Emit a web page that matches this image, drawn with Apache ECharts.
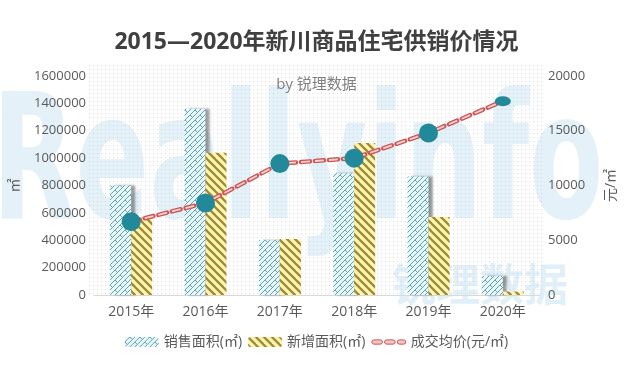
<!DOCTYPE html>
<html><head><meta charset="utf-8">
<script src="https://cdn.jsdelivr.net/npm/echarts@6/dist/echarts.min.js"></script>
<style>html,body{margin:0;padding:0;background:#fff}#c{width:633px;height:390px}</style>
</head><body><div id="c"></div>
<script>
const categories = ['2015年','2016年','2017年','2018年','2019年','2020年'];
const salesArea = [800000, 1360000, 400000, 890000, 865000, 140000];
const newArea = [570000, 1040000, 410000, 1110000, 570000, 25000];
const avgPrice = [6700, 8400, 12000, 12500, 14800, 17700];

function mk(w,h,draw){const c=document.createElement('canvas');c.width=w;c.height=h;draw(c.getContext('2d'));return c;}
const salesPat = mk(10,10,ctx=>{
  ctx.fillStyle='#e8f7fa';ctx.fillRect(0,0,10,10);
  ctx.strokeStyle='#4f9aa6';ctx.lineWidth=0.9;
  ctx.beginPath();ctx.moveTo(0,10);ctx.lineTo(10,0);ctx.stroke();
  ctx.beginPath();ctx.moveTo(0,5);ctx.lineTo(5,0);ctx.stroke();
  ctx.beginPath();ctx.moveTo(5,10);ctx.lineTo(10,5);ctx.stroke();
  ctx.beginPath();ctx.moveTo(5,0);ctx.lineTo(7.5,2.5);ctx.stroke();
  ctx.beginPath();ctx.moveTo(0,5);ctx.lineTo(2.5,7.5);ctx.stroke();
});
const newPat = mk(8,8,ctx=>{
  ctx.fillStyle='#fff6b4';ctx.fillRect(0,0,8,8);
  ctx.strokeStyle='#a08b34';ctx.lineWidth=2.3;
  [[0,0,8,8],[-4,4,4,12],[4,-4,12,4]].forEach(s=>{ctx.beginPath();ctx.moveTo(s[0],s[1]);ctx.lineTo(s[2],s[3]);ctx.stroke();});
});
const dotPat = mk(4,4,ctx=>{ctx.fillStyle='#fff';ctx.fillRect(0,0,4,4);ctx.fillStyle='#dedede';ctx.fillRect(1,1,1,1);});

const chart = echarts.init(document.getElementById('c'), null, {renderer:'canvas'});
const font = '"Open Sans","Noto Sans CJK SC",sans-serif';
const dotSizes = avgPrice.map((v,i)=> i===avgPrice.length-1 ? [16,10] : 19);
chart.setOption({
  animation:false,
  backgroundColor:'#fff',
  textStyle:{fontFamily:font},
  title:[
    {text:'2015—2020年新川商品住宅供销价情况',left:'center',top:26,textStyle:{fontSize:23,fontWeight:'bold',color:'#404040',fontFamily:font}},
    {text:'by 锐理数据',left:'center',top:72,textStyle:{fontSize:15,fontWeight:'normal',color:'#808080',fontFamily:font}}
  ],
  graphic:[
    {type:'rect',z:-10,shape:{x:88,y:62,width:456,height:233},style:{fill:{image:dotPat,repeat:'repeat'}},silent:true},
    {type:'text',z:-5,left:-8,top:85,style:{text:'Reallyinfo',fontSize:175,fontWeight:'bold',fill:'rgba(120,185,225,0.2)',fontFamily:'"DejaVu Sans",sans-serif'},scaleX:0.62,silent:true},
    {type:'text',z:-5,left:392,top:262,style:{text:'锐理数据',fontSize:44,fontWeight:'bold',fill:'rgba(120,185,225,0.22)',fontFamily:'"Noto Sans CJK SC",sans-serif'},silent:true}
  ],
  grid:{left:90,right:93,top:76,bottom:95},
  legend:{
    data:[{name:'销售面积(㎡)'},{name:'新增面积(㎡)'},
          {name:'成交均价(元/㎡)',icon:'path://M0,3a2,2 0 0 1 2,-2h6a2,2 0 0 1 0,4h-6a2,2 0 0 1 -2,-2zM12,3a2,2 0 0 1 2,-2h6a2,2 0 0 1 0,4h-6a2,2 0 0 1 -2,-2zM24,3a2,2 0 0 1 2,-2h4a2,2 0 0 1 0,4h-4a2,2 0 0 1 -2,-2z',
           itemStyle:{color:'#f3c4c4',borderColor:'#cf5555',borderWidth:1}}],
    bottom:36,left:'center',itemWidth:34,itemHeight:10,itemGap:6,
    textStyle:{fontSize:14,color:'#595959',fontFamily:font}
  },
  xAxis:{type:'category',data:categories,
    axisLine:{lineStyle:{color:'#d9d9d9'}},axisTick:{show:false},
    axisLabel:{fontSize:14,color:'#595959',margin:10}},
  yAxis:[
    {type:'value',min:0,max:1600000,interval:200000,name:'㎡',nameLocation:'middle',nameGap:72,nameRotate:90,
     nameTextStyle:{fontSize:14,color:'#595959'},
     axisLabel:{fontSize:13,color:'#595959',margin:8,formatter:v=>String(v)},splitLine:{show:false},axisLine:{show:false},axisTick:{show:false}},
    {type:'value',min:0,max:20000,interval:5000,name:'元/㎡',nameLocation:'middle',nameGap:64,nameRotate:90,
     nameTextStyle:{fontSize:14,color:'#595959'},
     axisLabel:{fontSize:13,color:'#595959',margin:8,formatter:v=>String(v)},splitLine:{show:false},axisLine:{show:false},axisTick:{show:false}}
  ],
  series:[
    {name:'销售面积(㎡)',type:'bar',data:salesArea,barWidth:21,barGap:'0%',z:3,
     itemStyle:{color:{image:salesPat,repeat:'repeat'},shadowColor:'rgba(60,60,60,0.5)',shadowOffsetX:4,shadowBlur:2}},
    {name:'新增面积(㎡)',type:'bar',data:newArea,barWidth:21,z:3,
     itemStyle:{color:{image:newPat,repeat:'repeat'}}},
    {name:'成交均价(元/㎡)',type:'line',yAxisIndex:1,data:avgPrice,showSymbol:false,z:4,
     itemStyle:{color:'#d05a5a'},
     lineStyle:{color:'#cf5555',width:4.5,type:[9,5],cap:'round'}},
    {name:'_inner',type:'line',yAxisIndex:1,data:avgPrice,showSymbol:false,z:5,silent:true,
     lineStyle:{color:'#f6d3d3',width:1.8,type:[9,5]}},
    {name:'_dots',type:'line',yAxisIndex:1,z:6,
     data:avgPrice.map((v,i)=>({value:v,symbolSize:dotSizes[i]})),
     symbol:'circle',lineStyle:{opacity:0},
     itemStyle:{color:'#21899a',borderWidth:0}}
  ]
});
</script></body></html>
